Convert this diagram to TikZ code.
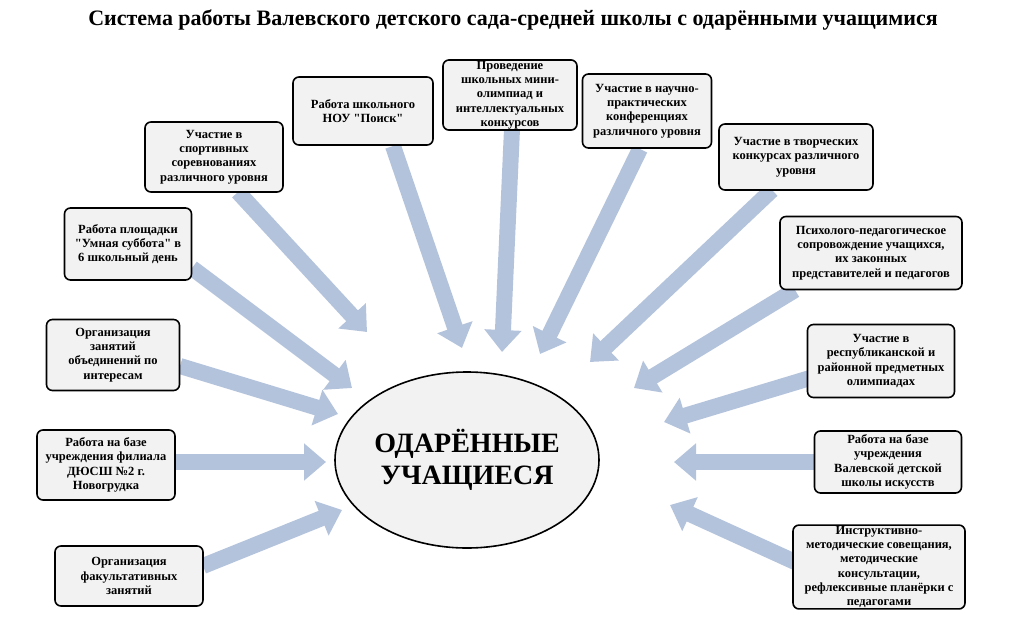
\documentclass[tikz,border=0pt]{standalone}
\usepackage{fontspec}
\setmainfont{Liberation Serif}[Ligatures=TeXOff]
\usetikzlibrary{arrows.meta,shapes.geometric}
\definecolor{arrc}{HTML}{B4C3DC}
\definecolor{boxf}{HTML}{F2F2F2}
\newcommand{\dq}{\symbol{34}}
\begin{document}
\begin{tikzpicture}[x=1pt,y=-1pt,
 bx/.style={draw,line width=1.6pt,rounded corners=6pt,fill=boxf,align=center,font=\bfseries\fontsize{12.5}{14.3}\selectfont,inner sep=1pt},
 arr/.style={draw=arrc,line width=16pt,-{Triangle[length=22pt 0 0,width=36pt 0 0]},color=arrc}]
\useasboundingbox (0,0) rectangle (1026,638);
\node[font=\bfseries\fontsize{22}{25}\selectfont] (title) at (513,20) {Система работы Валевского детского сада-средней школы с одарёнными учащимися};
\coordinate (s1) at (238,192); \coordinate (t1) at (367,332);
\coordinate (s2) at (393,146); \coordinate (t2) at (462,348);
\coordinate (s3) at (512,129); \coordinate (t3) at (502,352);
\coordinate (s4) at (640,149); \coordinate (t4) at (540,354);
\coordinate (s5) at (772,190); \coordinate (t5) at (590,362);
\coordinate (s6) at (795,290); \coordinate (t6) at (634,388);
\coordinate (s7) at (810,378); \coordinate (t7) at (664,422);
\coordinate (s8) at (816,462); \coordinate (t8) at (674,462);
\coordinate (s9) at (795,562); \coordinate (t9) at (670,505);
\coordinate (s10) at (192,268); \coordinate (t10) at (352,388);
\coordinate (s11) at (180,366); \coordinate (t11) at (338,414);
\coordinate (s12) at (175,462); \coordinate (t12) at (326,462);
\coordinate (s13) at (203,566); \coordinate (t13) at (342,510);
\foreach \i in {1,...,13}{\draw[arr] (s\i) -- (t\i);}
\node[draw,line width=1.6pt,ellipse,fill=boxf,inner sep=0pt,minimum width=264pt,minimum height=176pt,align=center,font=\bfseries\fontsize{28}{32}\selectfont] (ell) at (467,460) {ОДАРЁННЫЕ\\УЧАЩИЕСЯ};
\node[bx,minimum width=138pt,minimum height=70pt] (b1) at (214,157) {Участие в\\спортивных\\соревнованиях\\различного уровня};
\node[bx,minimum width=140pt,minimum height=68pt] (b2) at (363,111) {Работа школьного\\НОУ \dq Поиск\dq};
\node[bx,minimum width=134pt,minimum height=66pt] (b3) at (510,95) {Проведение\\школьных мини-\\олимпиад и\\интеллектуальных\\конкурсов};
\node[bx,minimum width=129pt,minimum height=74pt] (b4) at (647,111) {Участие в научно-\\практических\\конференциях\\различного уровня};
\node[bx,minimum width=154pt,minimum height=66pt] (b5) at (796,157) {Участие в творческих\\конкурсах различного\\уровня};
\node[bx,minimum width=182pt,minimum height=73pt] (b6) at (871,253) {Психолого-педагогическое\\сопровождение учащихся,\\их законных\\представителей и педагогов};
\node[bx,minimum width=147pt,minimum height=73pt] (b7) at (881,361) {Участие в\\республиканской и\\районной предметных\\олимпиадах};
\node[bx,minimum width=147pt,minimum height=62pt] (b8) at (888,462) {Работа на базе\\учреждения\\Валевской детской\\школы искусств};
\node[bx,minimum width=172pt,minimum height=79pt] (b9) at (879,567) {Инструктивно-\\методические совещания,\\методические\\консультации,\\рефлексивные планёрки с\\педагогами};
\node[bx,minimum width=127pt,minimum height=72pt] (b10) at (128,244) {Работа площадки\\\dq Умная суббота\dq{} в\\6 школьный день};
\node[bx,minimum width=133pt,minimum height=71pt] (b11) at (113,355) {Организация\\занятий\\объединений по\\интересам};
\node[bx,minimum width=138pt,minimum height=70pt] (b12) at (106,465) {Работа на базе\\учреждения филиала\\ДЮСШ №2 г.\\Новогрудка};
\node[bx,minimum width=148pt,minimum height=60pt] (b13) at (129,576) {Организация\\факультативных\\занятий};
\end{tikzpicture}
\end{document}
